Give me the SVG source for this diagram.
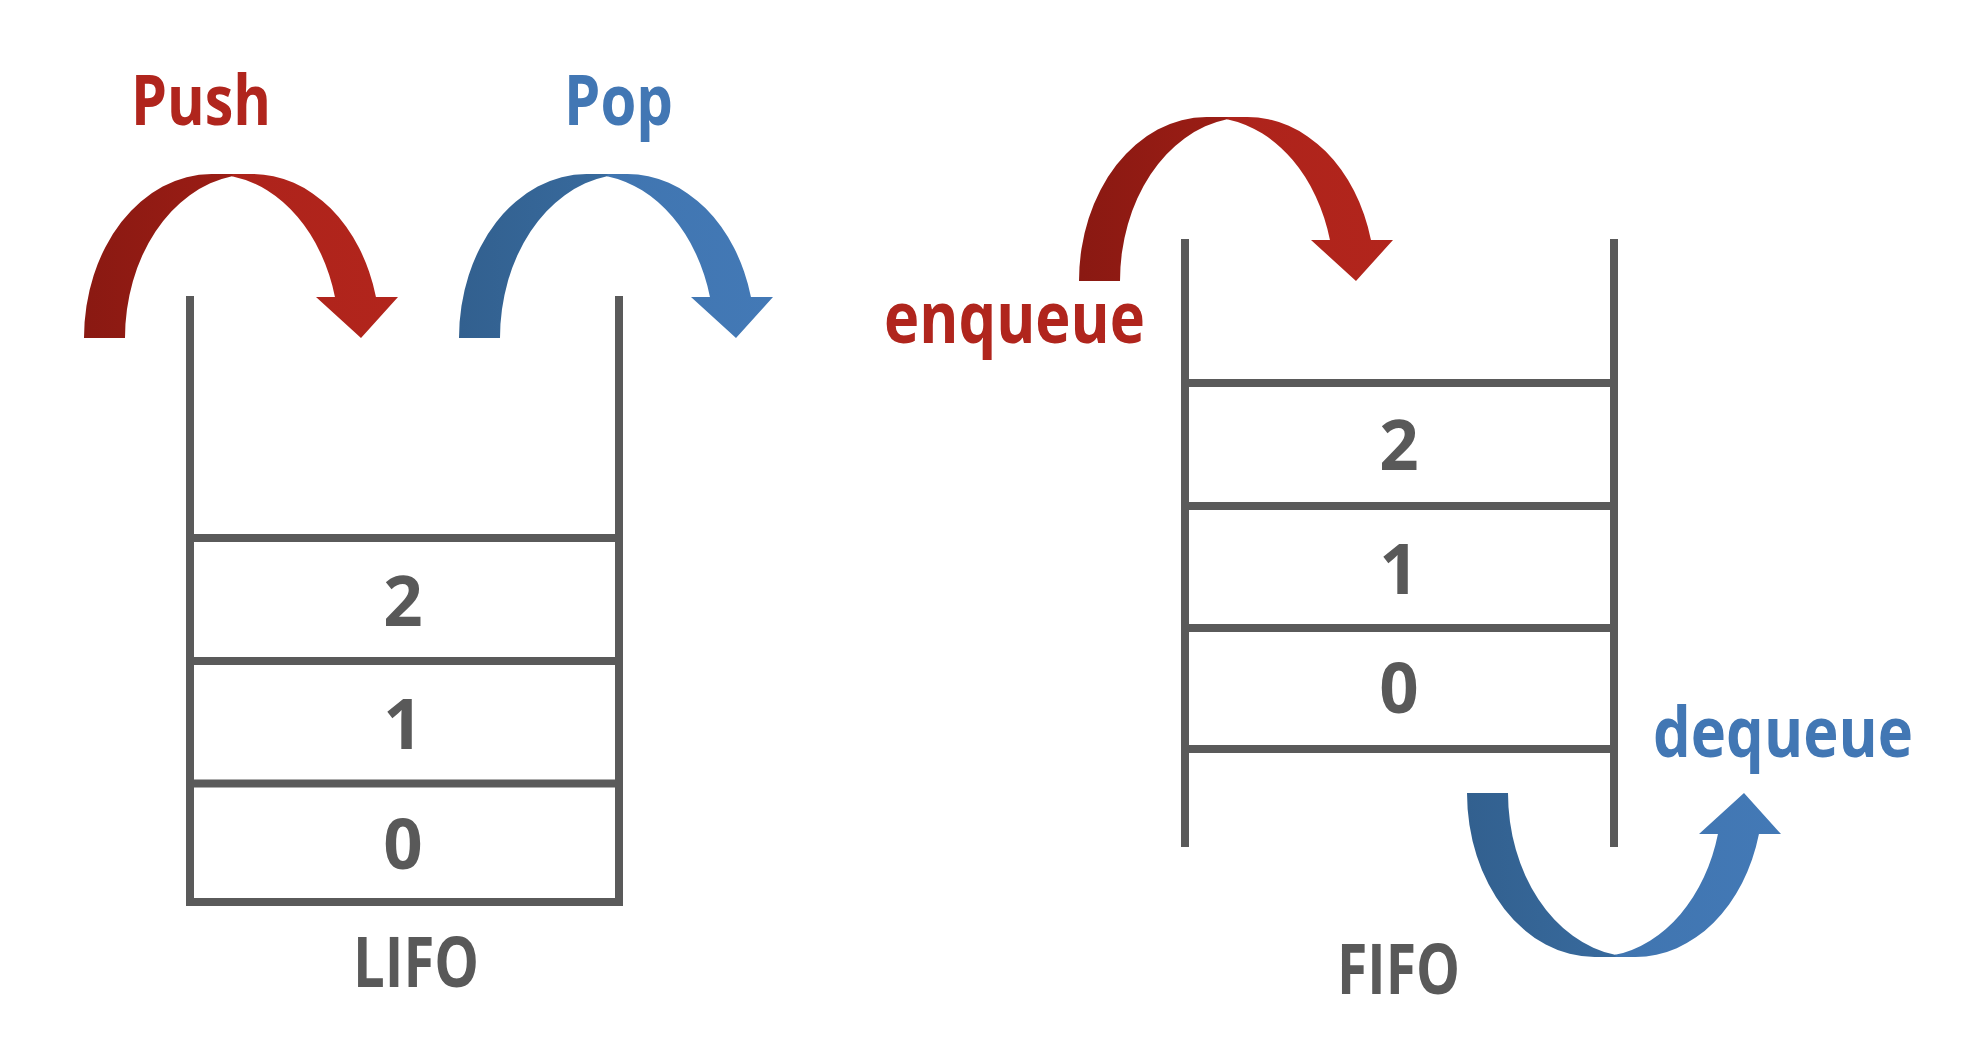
<svg xmlns="http://www.w3.org/2000/svg" xmlns:xlink="http://www.w3.org/1999/xlink" width="1962" height="1064" viewBox="0 0 1962 1064">
<style>
.wall{stroke:#5a5a5a;stroke-width:8;fill:none}
.t{font-family:"Open Sans","Noto Sans","Liberation Sans",sans-serif;font-weight:700}
.red{fill:#b0251d}
.blue{fill:#4277b4}
.gray{fill:#595959}
.dig{font-size:69px;text-anchor:middle}
</style>
<defs>
<linearGradient id="rL" x1="0" y1="0" x2="1" y2="0"><stop offset="0" stop-color="#8a1912"/><stop offset="1" stop-color="#9b1d15"/></linearGradient>
<linearGradient id="rR" x1="0" y1="0" x2="1" y2="0"><stop offset="0" stop-color="#ad231b"/><stop offset="1" stop-color="#b2251c"/></linearGradient>
<linearGradient id="bL" x1="0" y1="0" x2="1" y2="0"><stop offset="0" stop-color="#32608f"/><stop offset="1" stop-color="#386a9d"/></linearGradient>
<linearGradient id="bR" x1="0" y1="0" x2="1" y2="0"><stop offset="0" stop-color="#4075b0"/><stop offset="1" stop-color="#4379b6"/></linearGradient>
<path id="arcL" d="M -148,0 A 127.5,164 0 0 1 -20.5,-164 L 0.5,-164 L 0.5,-161.5 L 0,-161.87 A 127.5,164 0 0 0 -107,0 Z"/>
<path id="arcR" d="M 0,-164 L 20.5,-164 A 127.5,164 0 0 1 143.95,-41 L 166,-41 L 129,0 L 84,-41 L 102.95,-41 A 127.5,164 0 0 0 0,-161.87 Z"/>
</defs>
<rect width="1962" height="1064" fill="#ffffff"/>
<g id="connectors">
<g id="push-arrow" transform="translate(232,338)"><use xlink:href="#arcR" fill="url(#rR)"/><use xlink:href="#arcL" fill="url(#rL)"/></g>
<g id="pop-arrow" transform="translate(607,338)"><use xlink:href="#arcR" fill="url(#bR)"/><use xlink:href="#arcL" fill="url(#bL)"/></g>
<g id="enqueue-arrow" transform="translate(1227,281)"><use xlink:href="#arcR" fill="url(#rR)"/><use xlink:href="#arcL" fill="url(#rL)"/></g>
<g id="dequeue-arrow" transform="translate(1615,793) scale(1,-1)"><use xlink:href="#arcR" fill="url(#bR)"/><use xlink:href="#arcL" fill="url(#bL)"/></g>
</g>
<g id="lifo">
<path class="wall" d="M190,296 V906 M619,296 V906 M186,538 H623 M186,661 H623 M186,783.5 H623 M186,902 H623"/>
<text class="t gray dig" x="403" y="626">2</text>
<text class="t gray dig" x="403" y="749">1</text>
<text class="t gray dig" x="403" y="869">0</text>
<text class="t gray" x="353" y="987" font-size="70" textLength="126" lengthAdjust="spacingAndGlyphs">LIFO</text>
</g>
<g id="fifo">
<path class="wall" d="M1185,239 V847 M1614,239 V847 M1181,383 H1618 M1181,506 H1618 M1181,628 H1618 M1181,749 H1618"/>
<text class="t gray dig" x="1399" y="470">2</text>
<text class="t gray dig" x="1399" y="594">1</text>
<text class="t gray dig" x="1399" y="713">0</text>
<text class="t gray" x="1337" y="994" font-size="70" textLength="123" lengthAdjust="spacingAndGlyphs">FIFO</text>
</g>
<g id="labels">
<text id="push" class="t red" x="131" y="125" font-size="70" textLength="140" lengthAdjust="spacingAndGlyphs">Push</text>
<text id="pop" class="t blue" x="564" y="125" font-size="70" textLength="109" lengthAdjust="spacingAndGlyphs">Pop</text>
<text id="enqueue" class="t red" x="884" y="343" font-size="71" textLength="261" lengthAdjust="spacingAndGlyphs">enqueue</text>
<text id="dequeue" class="t blue" x="1653" y="757" font-size="69" textLength="260" lengthAdjust="spacingAndGlyphs">dequeue</text>
</g>
</svg>
